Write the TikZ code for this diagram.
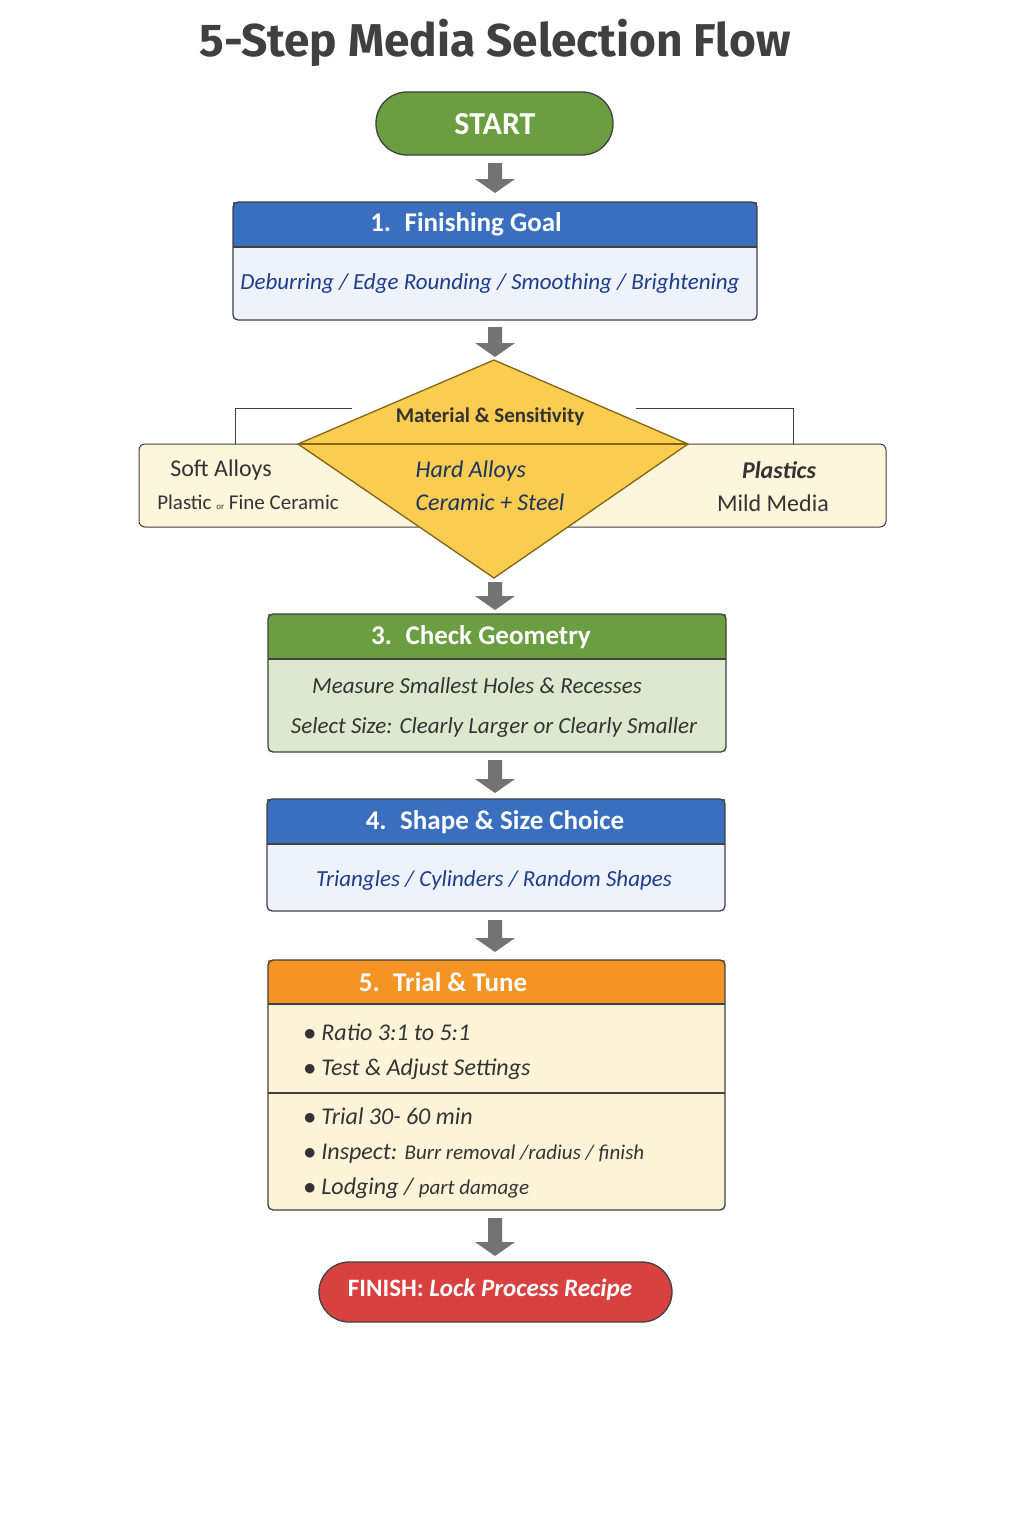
\documentclass[tikz,border=0pt]{standalone}
\usepackage{fontspec}
\setmainfont{Carlito}
\newfontfamily\titlefont{Fira Sans}
\definecolor{cBlueBody}{RGB}{238,243,251}
\definecolor{cBlue}{RGB}{58,111,191}
\definecolor{cBlueText}{RGB}{30,60,140}
\definecolor{cGreen}{RGB}{106,158,64}
\definecolor{cGreenBody}{RGB}{221,233,207}
\definecolor{cCream}{RGB}{253,245,220}
\definecolor{cDiaLine}{RGB}{130,100,20}
\definecolor{cDia}{RGB}{250,204,80}
\definecolor{cNavy}{RGB}{30,50,100}
\definecolor{cOrange}{RGB}{243,148,37}
\definecolor{cOrBody}{RGB}{253,243,216}
\definecolor{cRed}{RGB}{217,64,64}
\begin{document}
\begin{tikzpicture}[x=1pt,y=-1pt,
 hdr/.style={font=\fontsize{27}{30}\selectfont\bfseries,text=white},
 body/.style={font=\fontsize{23}{28}\selectfont\itshape},
 edge/.style={draw=black!75,line width=1.3pt}]
\useasboundingbox[fill=white] (0,0) rectangle (1024,1536);
\def\arr#1#2#3{\fill[black!55] (#1-7,#2) -- (#1+7,#2) -- (#1+7,#3-14) -- (#1+20,#3-14) -- (#1,#3) -- (#1-20,#3-14) -- (#1-7,#3-14) -- cycle;}
\node (title) at (495,43) {\titlefont\fontsize{46}{50}\selectfont\bfseries\color{black!75}5-Step Media Selection Flow};
% start
\draw[edge,fill=cGreen,rounded corners=31] (376,92) rectangle (613,155);
\node[hdr,font=\fontsize{32}{34}\selectfont\bfseries] (start) at (495,124) {START};
\arr{495}{163}{193}
% box 1
\fill[cBlueBody] (233,247) rectangle (757,320);
\fill[cBlue] (233,202) rectangle (757,247);
\draw[edge] (233,247) -- (757,247);
\draw[edge,rounded corners=5] (233,202) rectangle (757,320);
\node[hdr] (h1) at (466,224) {1.\enspace Finishing Goal};
\node[body,text=cBlueText] (b1) at (490,283) {Deburring / Edge Rounding / Smoothing / Brightening};
\arr{495}{327}{357}
% decision
\draw[edge,line width=1pt,fill=cCream,rounded corners=6] (139,444) rectangle (886,527);
\draw[black!75,line width=1pt] (235,444) -- (235,408) -- (352,408);
\draw[black!75,line width=1pt] (793,444) -- (793,408) -- (636,408);
\draw[line width=1.3pt,draw=cDiaLine,fill=cDia] (494,360) -- (688,444) -- (494,578) -- (298,444) -- cycle;
\draw[line width=1.3pt,draw=cDiaLine] (298,444) -- (688,444);
\node[font=\fontsize{21}{24}\selectfont\bfseries,text=black!80] (d) at (490,417) {Material \& Sensitivity};
\node[align=left,text=cNavy,font=\fontsize{24}{33}\selectfont\itshape] (hard) at (490,486) {Hard Alloys\\Ceramic + Steel};
\node[font=\fontsize{24}{28}\selectfont,text=black!80] (soft) at (221,470) {Soft Alloys};
\node[font=\fontsize{21}{24}\selectfont,text=black!80] (soft2) at (248,502) {Plastic {\small or} Fine Ceramic};
\node[font=\fontsize{24}{28}\selectfont\bfseries\itshape,text=black!80] (pl) at (779,470) {Plastics};
\node[font=\fontsize{24}{28}\selectfont,text=black!80] (pl2) at (773,503) {Mild Media};
\arr{495}{582}{610}
% box 3
\fill[cGreenBody] (268,659) rectangle (726,752);
\fill[cGreen] (268,614) rectangle (726,659);
\draw[edge] (268,659) -- (726,659);
\draw[edge,rounded corners=5] (268,614) rectangle (726,752);
\node[hdr] (h3) at (481,637) {3.\enspace Check Geometry};
\node[body,text=black!80] (b3a) at (477,686) {Measure Smallest Holes \& Recesses};
\node[body,text=black!80] (b3b) at (494,727) {Select Size: Clearly Larger or Clearly Smaller};
\arr{495}{760}{793}
% box 4
\fill[cBlueBody] (267,844) rectangle (725,911);
\fill[cBlue] (267,799) rectangle (725,844);
\draw[edge] (267,844) -- (725,844);
\draw[edge,rounded corners=5] (267,799) rectangle (725,911);
\node[hdr] (h4) at (495,822) {4.\enspace Shape \& Size Choice};
\node[body,text=cBlueText] (b4) at (494,880) {Triangles / Cylinders / Random Shapes};
\arr{495}{920}{952}
% box 5
\fill[cOrBody] (268,1004) rectangle (725,1210);
\fill[cOrange] (268,960) rectangle (725,1004);
\draw[edge] (268,1004) -- (725,1004);
\draw[edge] (268,1093) -- (725,1093);
\draw[edge,rounded corners=5] (268,960) rectangle (725,1210);
\node[hdr] (h5) at (443,982) {5.\enspace Trial \& Tune};
\node[text=black!80,anchor=west,align=left,font=\fontsize{24}{35}\selectfont\itshape] (b5a) at (300,1052) {$\bullet$\ Ratio 3:1 to 5:1\\$\bullet$\ Test \& Adjust Settings};
\node[text=black!80,anchor=west,align=left,font=\fontsize{24}{35}\selectfont\itshape] (b5b) at (300,1153) {$\bullet$\ Trial 30- 60 min\\$\bullet$\ Inspect: {\fontsize{21}{24}\selectfont Burr removal /radius / finish}\\$\bullet$\ Lodging / {\fontsize{21}{24}\selectfont part damage}};
\arr{495}{1218}{1256}
% finish
\draw[edge,fill=cRed,rounded corners=30] (319,1262) rectangle (672,1322);
\node[text=white,font=\fontsize{25}{28}\selectfont] (fin) at (490,1290) {\bfseries FINISH: \itshape Lock Process Recipe};
\end{tikzpicture}
\end{document}
